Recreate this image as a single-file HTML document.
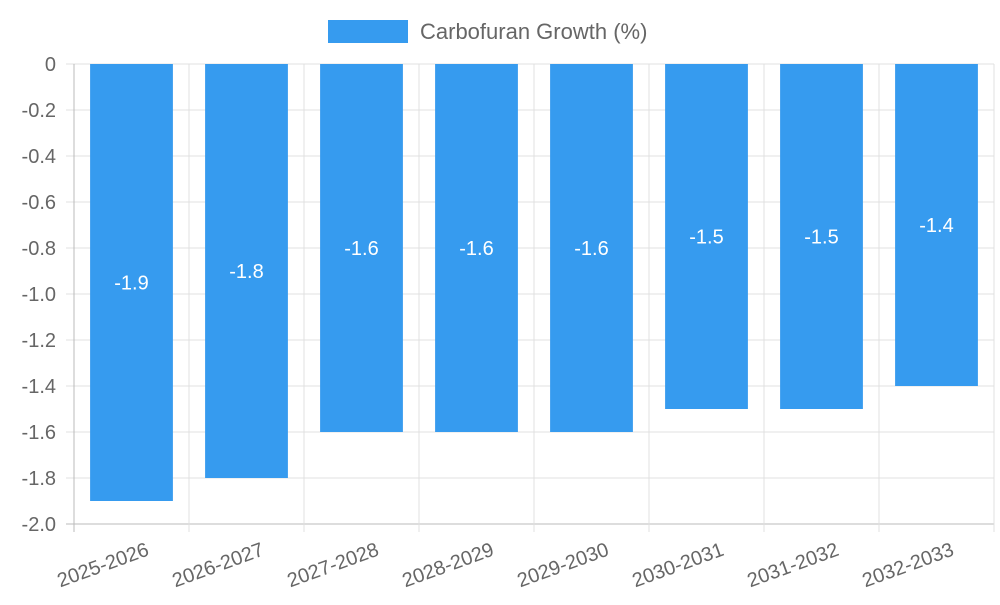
<!DOCTYPE html>
<html><head><meta charset="utf-8"><style>
body{margin:0;background:#fff;}
svg{font-family:"Liberation Sans",sans-serif;}
</style></head><body>
<svg id="chart" width="1000" height="600"></svg>
<script>
const categories=["2025-2026","2026-2027","2027-2028","2028-2029","2029-2030","2030-2031","2031-2032","2032-2033"];
const growthValues=[-1.9,-1.8,-1.6,-1.6,-1.6,-1.5,-1.5,-1.4];
const yTicks=[0,-0.2,-0.4,-0.6,-0.8,-1.0,-1.2,-1.4,-1.6,-1.8,-2.0];
const svg=document.getElementById('chart');
const NS='http://www.w3.org/2000/svg';
const L=74,R=994,T=64,B=524,yMin=-2,yMax=0;
const bw=(R-L)/categories.length;
function y(v){return T+(yMax-v)/(yMax-yMin)*(B-T);}
function x(i){return L+i*bw;}
function mk(tag,attrs,parent){const e=document.createElementNS(NS,tag);for(const k in attrs)e.setAttribute(k,attrs[k]);(parent||svg).appendChild(e);return e;}
// grid
yTicks.forEach(t=>{
  const g=mk('line',{x1:66,x2:R,y1:y(t),y2:y(t),stroke:t===yMin?'#bbb':'#e0e0e0','stroke-width':1});
  
  
  const tx=mk('text',{x:56,y:y(t)+7,'text-anchor':'end','font-size':20,fill:'#666'});
  tx.textContent=(t===0?'0':t.toFixed(1));
  
  
});
for(let i=0;i<=categories.length;i++){
  const g=mk('line',{x1:x(i),x2:x(i),y1:T,y2:B+8,stroke:i===0?'#bbb':'#e0e0e0','stroke-width':1});
  
  
}
categories.forEach((c,i)=>{
  const v=growthValues[i];
  const w=bw*0.72, bx=x(i)+(bw-w)/2;
  const r=mk('rect',{x:bx,y:y(0),width:w,height:y(v)-y(0),fill:'#369bef'});
  
  
  const lb=mk('text',{x:bx+w/2,y:(y(0)+y(v))/2+7,'text-anchor':'middle','font-size':20,fill:'#fff'});
  lb.textContent=v.toFixed(1);
  
  
  const cx=x(i)+bw/2+14, cy=B+18;
  const xl=mk('text',{x:cx,y:cy,'text-anchor':'end','font-size':20,fill:'#666',transform:`rotate(-20 ${cx} ${cy})`,'dominant-baseline':'hanging'});
  xl.textContent=c;
  
  
});
const lg=mk('g',{});


mk('rect',{x:328,y:20,width:80,height:23,fill:'#369bef'},lg);
const lt=mk('text',{x:420,y:39,'font-size':22,fill:'#666'},lg);
lt.textContent='Carbofuran Growth (%)';
</script>
</body></html>
